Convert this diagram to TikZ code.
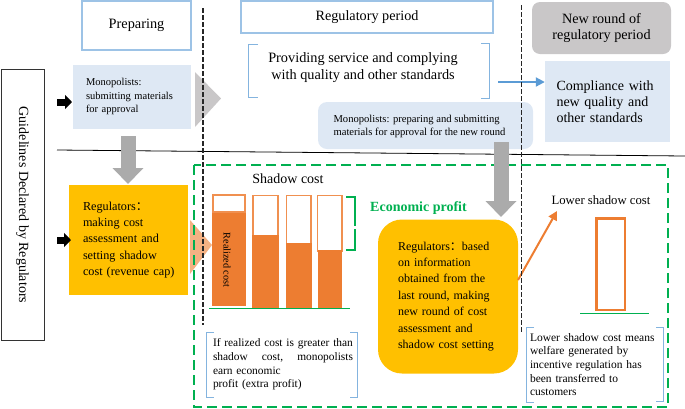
\documentclass[tikz,border=0pt]{standalone}
\usepackage{fontspec}
\setmainfont{Liberation Serif}
\newfontfamily\cjk{Noto Sans CJK SC}
\usetikzlibrary{arrows.meta,positioning}
\definecolor{bluebd}{HTML}{9DC3E6}
\definecolor{bluefill}{HTML}{DEE8F4}
\definecolor{bracketblue}{HTML}{5B9BD5}
\definecolor{yellowbox}{HTML}{FFC000}
\definecolor{orangebar}{HTML}{ED7D31}
\definecolor{greenline}{HTML}{00B050}
\definecolor{greyarrow}{HTML}{ABABAB}
\definecolor{greytri}{HTML}{C9C7C8}
\definecolor{lightorange}{HTML}{F4B183}
\newcommand{\fs}[2]{\fontsize{#1pt}{#2pt}\selectfont}
\tikzset{
  x=1pt,y=-1pt,
  headbox/.style={draw=bluebd,line width=1.4pt,fill=white,inner sep=0pt},
  bluebox/.style={fill=bluefill,inner sep=0pt},
  yellowsq/.style={fill=yellowbox,inner sep=0pt},
  bigarrow/.style={draw=greyarrow,line width=15pt,-{Triangle[length=16pt,width=30pt]}},
  blackarrow/.style={draw=black,line width=7pt,-{Triangle[length=7pt,width=14pt]}},
  vdash/.style={draw=black!85,line width=1.2pt,dash pattern=on 4.5pt off 2.5pt},
  greendash/.style={draw=greenline,line width=1.5pt,dash pattern=on 10pt off 5pt},
  barout/.style={draw=orangebar!85,line width=1.6pt,fill=white},
  barfill/.style={fill=orangebar},
  brk/.style={draw=bracketblue!75,line width=0.8pt},
  gbrk/.style={draw=greenline,line width=1.5pt},
}
\begin{document}
\begin{tikzpicture}
\useasboundingbox (0,0) rectangle (685,408);
% headers
\node[headbox,minimum width=109pt,minimum height=49pt,font=\fs{14.3}{16}] (prep) at (136.5,25.5) {Preparing};
\node[headbox,minimum width=252pt,minimum height=32pt,font=\fs{14.2}{16}] (reg) at (367,17) {Regulatory period};
\node[fill=greytri,rounded corners=8pt,minimum width=139pt,minimum height=52pt,inner sep=0pt,align=center,font=\fs{14.2}{16.5}] (newround) at (601.5,28) {New round of\\regulatory period};
% guidelines
\node[draw=black!80,line width=0.9pt,fill=white,minimum width=43pt,minimum height=271pt,inner sep=0pt] (guide) at (22.5,205)
  {\rotatebox{-90}{\fs{14}{16}Guidelines Declared by Regulators}};
% monopolists
\node[bluebox,minimum width=118pt,minimum height=64pt,text width=92pt,align=left,font=\fs{10.5}{13.7}] (mono) at (132,96.5) {Monopolists:\\submitting materials\\for approval};
\node[bluebox,rounded corners=9pt,minimum width=215pt,minimum height=47pt,font=\fs{10.6}{13.5}] (mono2) at (425.5,125.5) {};
\node[inner sep=0pt,align=left,font=\fs{10.6}{13.5}] (mono2t) at (419.5,126.5) {Monopolists: preparing and submitting\\materials for approval for the new round};
% compliance
\node[bluebox,minimum width=125pt,minimum height=81pt,text width=102pt,align=left,font=\fs{14}{16.2}] (comp) at (607.5,101.5) {Compliance with\\new quality and\\other standards};
% providing
\node[inner sep=0pt,align=center,font=\fs{14.3}{16.5}] (prov) at (363,67.5) {Providing service and complying\\with quality and other standards};
\draw[brk] (258,44) -| (248.5,97) -- (258,97);
\draw[brk] (481,43) -| (489.5,98) -- (481,98);
% triangles
\fill[greytri] (195,72) -- (221,98.5) -- (195,127) -- cycle;
\fill[lightorange] (190,220) -- (212,245) -- (190,274) -- cycle;
% line
\draw[black,line width=0.8pt] (57,150) -- (685,156);
% regulators
\node[yellowsq,minimum width=119pt,minimum height=110pt,text width=91pt,align=left,font=\fs{12.2}{16.4}] (regs) at (128.5,240) {Regulators{\cjk：}\\making cost\\assessment and\\setting shadow\\\mbox{cost (revenue cap)}};
% green dashed box
\draw[greendash] (194,165) rectangle (668,407);
\node[font=\fs{14}{16},inner sep=0pt] (shadow) at (288,179) {Shadow cost};
% bars
\draw[barout] (213,195) rectangle (245,212);
\fill[barfill] (212,213) rectangle (245.5,306);
\node[rotate=-90,font=\fs{10.2}{11},inner sep=0pt] (rc) at (227,260) {Realized cost};
\draw[barout] (253,195.5) rectangle (278,236);
\fill[barfill] (252,235) rectangle (279,308);
\draw[barout] (286.5,195.5) rectangle (311,244);
\fill[barfill] (286,243) rectangle (312,308);
\draw[barout] (317.5,195.5) rectangle (342,251);
\fill[barfill] (317.5,250) rectangle (342,308);
\draw[greenline,line width=1pt] (209,308.5) -- (350,308.5);
\draw[gbrk] (346,197) -- (355,197) -- (355,226);
\draw[gbrk] (355,229) -- (355,250) -- (346,250);
\node[font=\bfseries\fs{14}{16},text=greenline,inner sep=0pt] (econ) at (418.5,208) {Economic profit};
% note 1
\node[inner sep=0pt,text width=140pt,align=left,font=\fs{11.4}{13.7}] (note1) at (283,364.5) {If realized cost is greater than\\shadow\hfill cost,\hfill monopolists\\earn economic\\profit (extra profit)};
\draw[brk] (214,332) -| (206.5,397) -- (214,397);
\draw[brk] (350,332) -| (357.5,397) -- (350,397);
% regulators 2
\node[fill=yellowbox,rounded corners=24pt,minimum width=140pt,minimum height=154pt,inner sep=0pt,text width=100pt,align=left,font=\fs{12}{16.4}] (regs2) at (448,296.5) {Regulators{\cjk：}based\\on information\\obtained from the\\last round, making\\new round of cost\\assessment and\\shadow cost setting};
% lower shadow
\node[font=\fs{12.7}{16},inner sep=0pt] (lower) at (601,200) {Lower shadow cost};
\draw[orangebar,line width=2.2pt] (596.5,218.5) rectangle (625,310);
\draw[greenline,line width=1pt] (580,313) -- (649,313);
\node[inner sep=0pt,text width=130pt,align=left,font=\fs{11.5}{13.6}] (note2) at (595,364.5) {Lower shadow cost means\\welfare generated by\\incentive regulation has\\been transferred to\\customers};
\draw[brk] (534,327.5) -| (526.5,402) -- (534,402);
\draw[brk] (656,327.5) -| (663.5,401) -- (656,401);
% arrows
\coordinate (a1) at (128,136);
\coordinate (a1e) at (128,184);
\draw[bigarrow] (a1) -- (a1e);
\coordinate (a2) at (501,142);
\coordinate (a2e) at (501,217);
\draw[bigarrow] (a2) -- (a2e);
\coordinate (b1) at (57,102);\coordinate (b1e) at (72,102);
\coordinate (b2) at (57,240);\coordinate (b2e) at (71,240);
\draw[blackarrow] (b1) -- (b1e);
\draw[blackarrow] (b2) -- (b2e);
\coordinate (c1) at (498,82);
\draw[bracketblue,line width=2pt,-{Triangle[length=9pt,width=9pt]}] (c1) -- (comp.west |- c1);
\coordinate (d1) at (518,280);
\coordinate (d2) at (557,211);
\draw[orangebar,line width=2pt,-{Triangle[length=9pt,width=9pt]}] (d1) -- (d2);
% dashed verticals
\draw[vdash] (203,8) -- (203,325);
\draw[vdash] (521.5,5) -- (521.5,333);
\end{tikzpicture}
\end{document}
